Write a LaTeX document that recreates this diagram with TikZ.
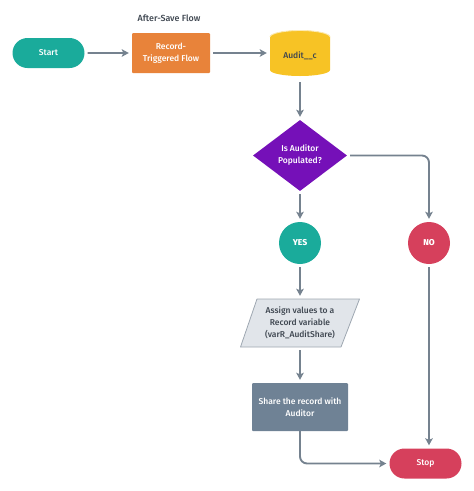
\documentclass[tikz,border=0pt]{standalone}
\usepackage{fontspec}
\setmainfont{Fira Sans Medium}
\usetikzlibrary{arrows.meta,shapes.geometric,shapes.misc,calc}
\definecolor{teal1}{HTML}{1AAB9B}
\definecolor{orange1}{HTML}{E8833A}
\definecolor{yellow1}{HTML}{F7C325}
\definecolor{purple1}{HTML}{7510B8}
\definecolor{red1}{HTML}{D6405C}
\definecolor{slate1}{HTML}{6F8295}
\definecolor{pale1}{HTML}{E1E5EA}
\definecolor{edge1}{HTML}{75828F}
\definecolor{ink1}{HTML}{3E4650}
\tikzset{
  x=1pt,y=-1pt,
  lab/.style={font=\fontsize{8.5}{12}\selectfont,align=center,text=white},
  darklab/.style={font=\fontsize{8.5}{12}\selectfont,align=center,text=ink1},
  term/.style={lab,rounded rectangle,fill=#1,minimum width=72pt,minimum height=30pt,inner sep=0pt},
  boxnode/.style={lab,rectangle,rounded corners=1pt,fill=#1,inner sep=0pt},
  circ/.style={lab,circle,fill=#1,minimum size=42pt,inner sep=0pt},
  conn/.style={draw=edge1,line width=1.9pt,rounded corners=7pt,shorten <=3pt,shorten >=3pt,
    -{Stealth[length=7pt,width=7.5pt,inset=1.5pt]}}
}
\begin{document}
\begin{tikzpicture}
\useasboundingbox (0,0) rectangle (474,491);
\node[term=teal1] (start) at (48.5,53) {Start};
\node[boxnode=orange1,minimum width=78pt,minimum height=40pt] (rec) at (171,53) {Record-\\Triggered Flow};
\node[darklab,font=\fontsize{8.9}{11}\selectfont] (title) at (169,18.5) {After-Save Flow};
% cylinder
\fill[yellow1] (270,37) arc[x radius=30,y radius=6.5,start angle=180,end angle=360] -- (330,70)
  arc[x radius=30,y radius=6,start angle=0,end angle=180] -- cycle;
\fill[yellow1] (300,37) ellipse[x radius=30,y radius=6.5];
\draw[white!65!yellow1,line width=0.9pt] (270,37) arc[x radius=30,y radius=6.5,start angle=180,end angle=360];
\node[rectangle,minimum width=60pt,minimum height=46pt,inner sep=0pt,text=ink1,font=\fontsize{8.5}{12}\selectfont] (aud) at (300,56) {Audit\_\kern0pt\_c};
\node[diamond,fill=purple1,lab,minimum width=94pt,minimum height=71pt,aspect=1.32,inner sep=0pt] (dec) at (300,155.5) {Is Auditor\\Populated?};
\node[circ=teal1,font=\fontsize{8.5}{12}\selectfont\bfseries] (yes) at (300,243) {YES};
\node[circ=red1,font=\fontsize{8.5}{12}\selectfont\bfseries] (no) at (429,243) {NO};
% parallelogram
\draw[fill=pale1,draw=edge1!70,line width=0.8pt,line join=round] (257,299) -- (359.5,299) -- (341,347) -- (240.5,347) -- cycle;
\node[darklab,rectangle,minimum width=100pt,minimum height=48pt,inner sep=0pt] (assign) at (300,323) {Assign values to a\\Record variable\\(varR\_AuditShare)};
\node[boxnode=slate1,minimum width=96pt,minimum height=48pt] (share) at (300,407) {Share the record with\\Auditor};
\node[term=red1,minimum width=72pt,minimum height=30pt] (stop) at (425.5,463.5) {Stop};
\draw[conn] (start) -- (rec);
\draw[conn] (rec) -- (aud.west |- rec.east);
\draw[conn] (aud) -- (dec);
\draw[conn] (dec) -- (yes);
\draw[conn] (dec.east) -| (no.north);
\draw[conn] (yes) -- (assign);
\draw[conn] (assign) -- (share);
\draw[conn,shorten <=0pt] (share.south) |- (stop.west);
\draw[conn] (no.south) -- (no.south |- stop.north);
\end{tikzpicture}
\end{document}
